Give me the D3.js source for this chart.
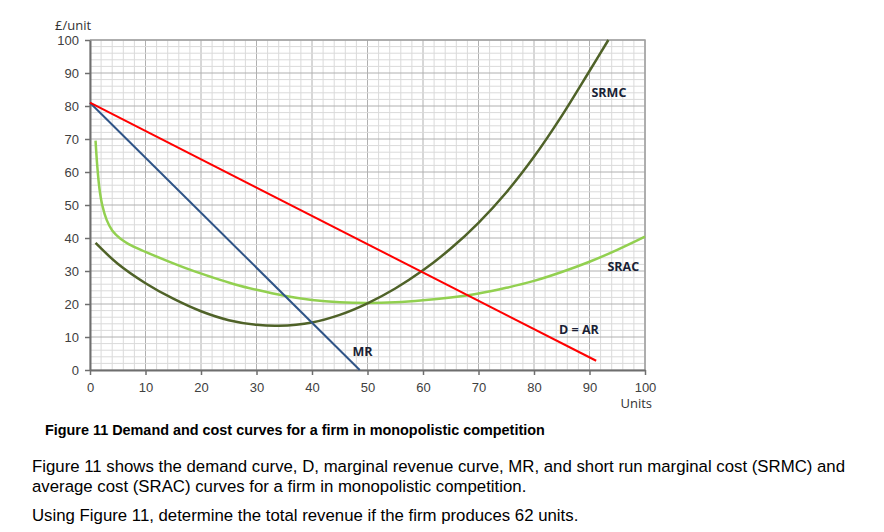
<!DOCTYPE html>
<html>
<head>
<meta charset="utf-8">
<script src="https://cdn.jsdelivr.net/npm/d3@7"></script>
<style>
  body { margin: 0; background: #fff; }
  svg { display: block; }
</style>
</head>
<body>
<div id="container"></div>
<script>
/* CONSTANTS AND GLOBALS */
const width = 884,
  height = 532,
  margin = { top: 40, bottom: 162, left: 90, right: 239 };

/* DATA */
// demand D = AR, straight line
const demand = [[0, 81], [91.2, 2.8]];
// marginal revenue, straight line
const mr = [[0, 81], [48.6, 0]];
// short run marginal cost
const srmc = [[1, 38.5], [5, 32.2], [10, 26.3], [15, 21.6], [20, 17.8], [25, 15.1],
  [30, 13.7], [34, 13.4], [40, 14.4], [45, 16.7], [50, 20.2], [55, 24.7], [60, 30.2],
  [65, 36.8], [70, 44.6], [75, 53.8], [80, 64.6], [85, 77], [90, 90.6], [93.4, 100]];
// short run average cost
const srac = [[1, 69.5], [1.3, 62], [1.7, 55], [2.2, 50], [3, 45.5], [4, 42.3],
  [5.5, 39.8], [7.5, 37.7], [10, 35.8], [14, 33], [18, 30.4], [22, 28.1], [26, 26],
  [30, 24.3], [35, 22.5], [40, 21.2], [45, 20.5], [50, 20.3], [55, 20.5], [60, 21.1],
  [65, 22], [70, 23.2], [75, 24.9], [80, 27], [85, 29.7], [90, 32.8], [95, 36.4], [100, 40.4]];

const xTicks = d3.range(0, 101, 10);
const yTicks = d3.range(0, 101, 10);
const minorTicks = d3.range(0, 101, 2);

const curveLabels = [
  { text: "SRMC", x: 93.5, y: 84.2 },
  { text: "SRAC", x: 96.1, y: 31.2 },
  { text: "D = AR", x: 88.1, y: 12.1 },
  { text: "MR", x: 49.1, y: 5.5 }
];

/* SCALES */
const xScale = d3.scaleLinear().domain([0, 100]).range([margin.left, width - margin.right]);
const yScale = d3.scaleLinear().domain([0, 100]).range([height - margin.bottom, margin.top]);

const svg = d3.select("#container").append("svg")
  .attr("width", width)
  .attr("height", height);

/* GRID */
const grid = svg.append("g");
grid.selectAll(".vminor").data(minorTicks).join("line")
  .attr("x1", d => xScale(d)).attr("x2", d => xScale(d))
  .attr("y1", yScale(0)).attr("y2", yScale(100))
  .attr("stroke", d => d % 10 === 0 ? "#b0b0b0" : "#dadada")
  .attr("stroke-width", 1);
grid.selectAll(".hminor").data(minorTicks).join("line")
  .attr("y1", d => yScale(d)).attr("y2", d => yScale(d))
  .attr("x1", xScale(0)).attr("x2", xScale(100))
  .attr("stroke", d => d % 10 === 0 ? "#b0b0b0" : "#dadada")
  .attr("stroke-width", 1);

// frame top/right
svg.append("path")
  .attr("d", `M${xScale(0)},${yScale(100)}H${xScale(100)}V${yScale(0)}`)
  .attr("fill", "none")
  .attr("stroke", "#a0a0a0")
  .attr("stroke-width", 1.5);

/* AXES */
const xAxis = d3.axisBottom(xScale).tickValues(xTicks).tickSize(5).tickSizeOuter(0);
const yAxis = d3.axisLeft(yScale).tickValues(yTicks).tickSize(5).tickSizeOuter(0);

const gx = svg.append("g")
  .attr("transform", `translate(0,${yScale(0)})`)
  .call(xAxis);
const gy = svg.append("g")
  .attr("transform", `translate(${xScale(0)},0)`)
  .call(yAxis);

[gx, gy].forEach(g => {
  g.select(".domain").attr("stroke", "#6e6e6e").attr("stroke-width", 2);
  g.selectAll(".tick line").attr("stroke", "#6e6e6e").attr("stroke-width", 1.5);
  g.selectAll(".tick text")
    .attr("fill", "#404040")
    .style("font-family", "'Liberation Sans', Arial, sans-serif")
    .style("font-size", "13px");
});
gx.selectAll(".tick text").attr("dy", "1.05em");
gy.selectAll(".tick text").attr("x", -11);

svg.append("text")
  .attr("x", 55).attr("y", 30)
  .attr("fill", "#333")
  .style("font-family", "'Open Sans', sans-serif")
  .style("font-size", "13px")
  .text("£/unit");

svg.append("text")
  .attr("x", 652).attr("y", 408)
  .attr("text-anchor", "end")
  .attr("fill", "#333")
  .style("font-family", "'Open Sans', sans-serif")
  .style("font-size", "13px")
  .text("Units");

/* CURVES */
const line = d3.line()
  .x(d => xScale(d[0]))
  .y(d => yScale(d[1]));
const smooth = d3.line()
  .x(d => xScale(d[0]))
  .y(d => yScale(d[1]))
  .curve(d3.curveCatmullRom.alpha(0.5));

svg.append("path").datum(srac)
  .attr("d", smooth).attr("fill", "none")
  .attr("stroke", "#92d050").attr("stroke-width", 2.5);
svg.append("path").datum(srmc)
  .attr("d", smooth).attr("fill", "none")
  .attr("stroke", "#4f6228").attr("stroke-width", 2.5);
svg.append("path").datum(mr)
  .attr("d", line).attr("fill", "none")
  .attr("stroke", "#2f5487").attr("stroke-width", 2);
svg.append("path").datum(demand)
  .attr("d", line).attr("fill", "none")
  .attr("stroke", "#ff0000").attr("stroke-width", 2);

svg.selectAll(".clabel").data(curveLabels).join("text")
  .attr("class", "clabel")
  .attr("x", d => xScale(d.x)).attr("y", d => yScale(d.y))
  .attr("text-anchor", "middle")
  .attr("dy", "0.35em")
  .attr("fill", "#1a1f36")
  .style("font-family", "'Open Sans', sans-serif")
  .style("font-weight", "bold")
  .style("font-size", "12.5px")
  .text(d => d.text);

/* CAPTION AND TEXT */
svg.append("text")
  .attr("x", 45).attr("y", 435)
  .attr("fill", "#000")
  .style("font-family", "'Liberation Sans', Arial, sans-serif")
  .style("font-weight", "bold")
  .style("font-size", "14.4px")
  .text("Figure 11 Demand and cost curves for a firm in monopolistic competition");

const para = [
  { t: "Figure 11 shows the demand curve, D, marginal revenue curve, MR, and short run marginal cost (SRMC) and", y: 472 },
  { t: "average cost (SRAC) curves for a firm in monopolistic competition.", y: 492 },
  { t: "Using Figure 11, determine the total revenue if the firm produces 62 units.", y: 521 }
];
svg.selectAll(".para").data(para).join("text")
  .attr("class", "para")
  .attr("x", 32).attr("y", d => d.y)
  .attr("fill", "#000")
  .style("font-family", "'Liberation Sans', Arial, sans-serif")
  .style("font-size", "16.8px")
  .text(d => d.t);
</script>
</body>
</html>
